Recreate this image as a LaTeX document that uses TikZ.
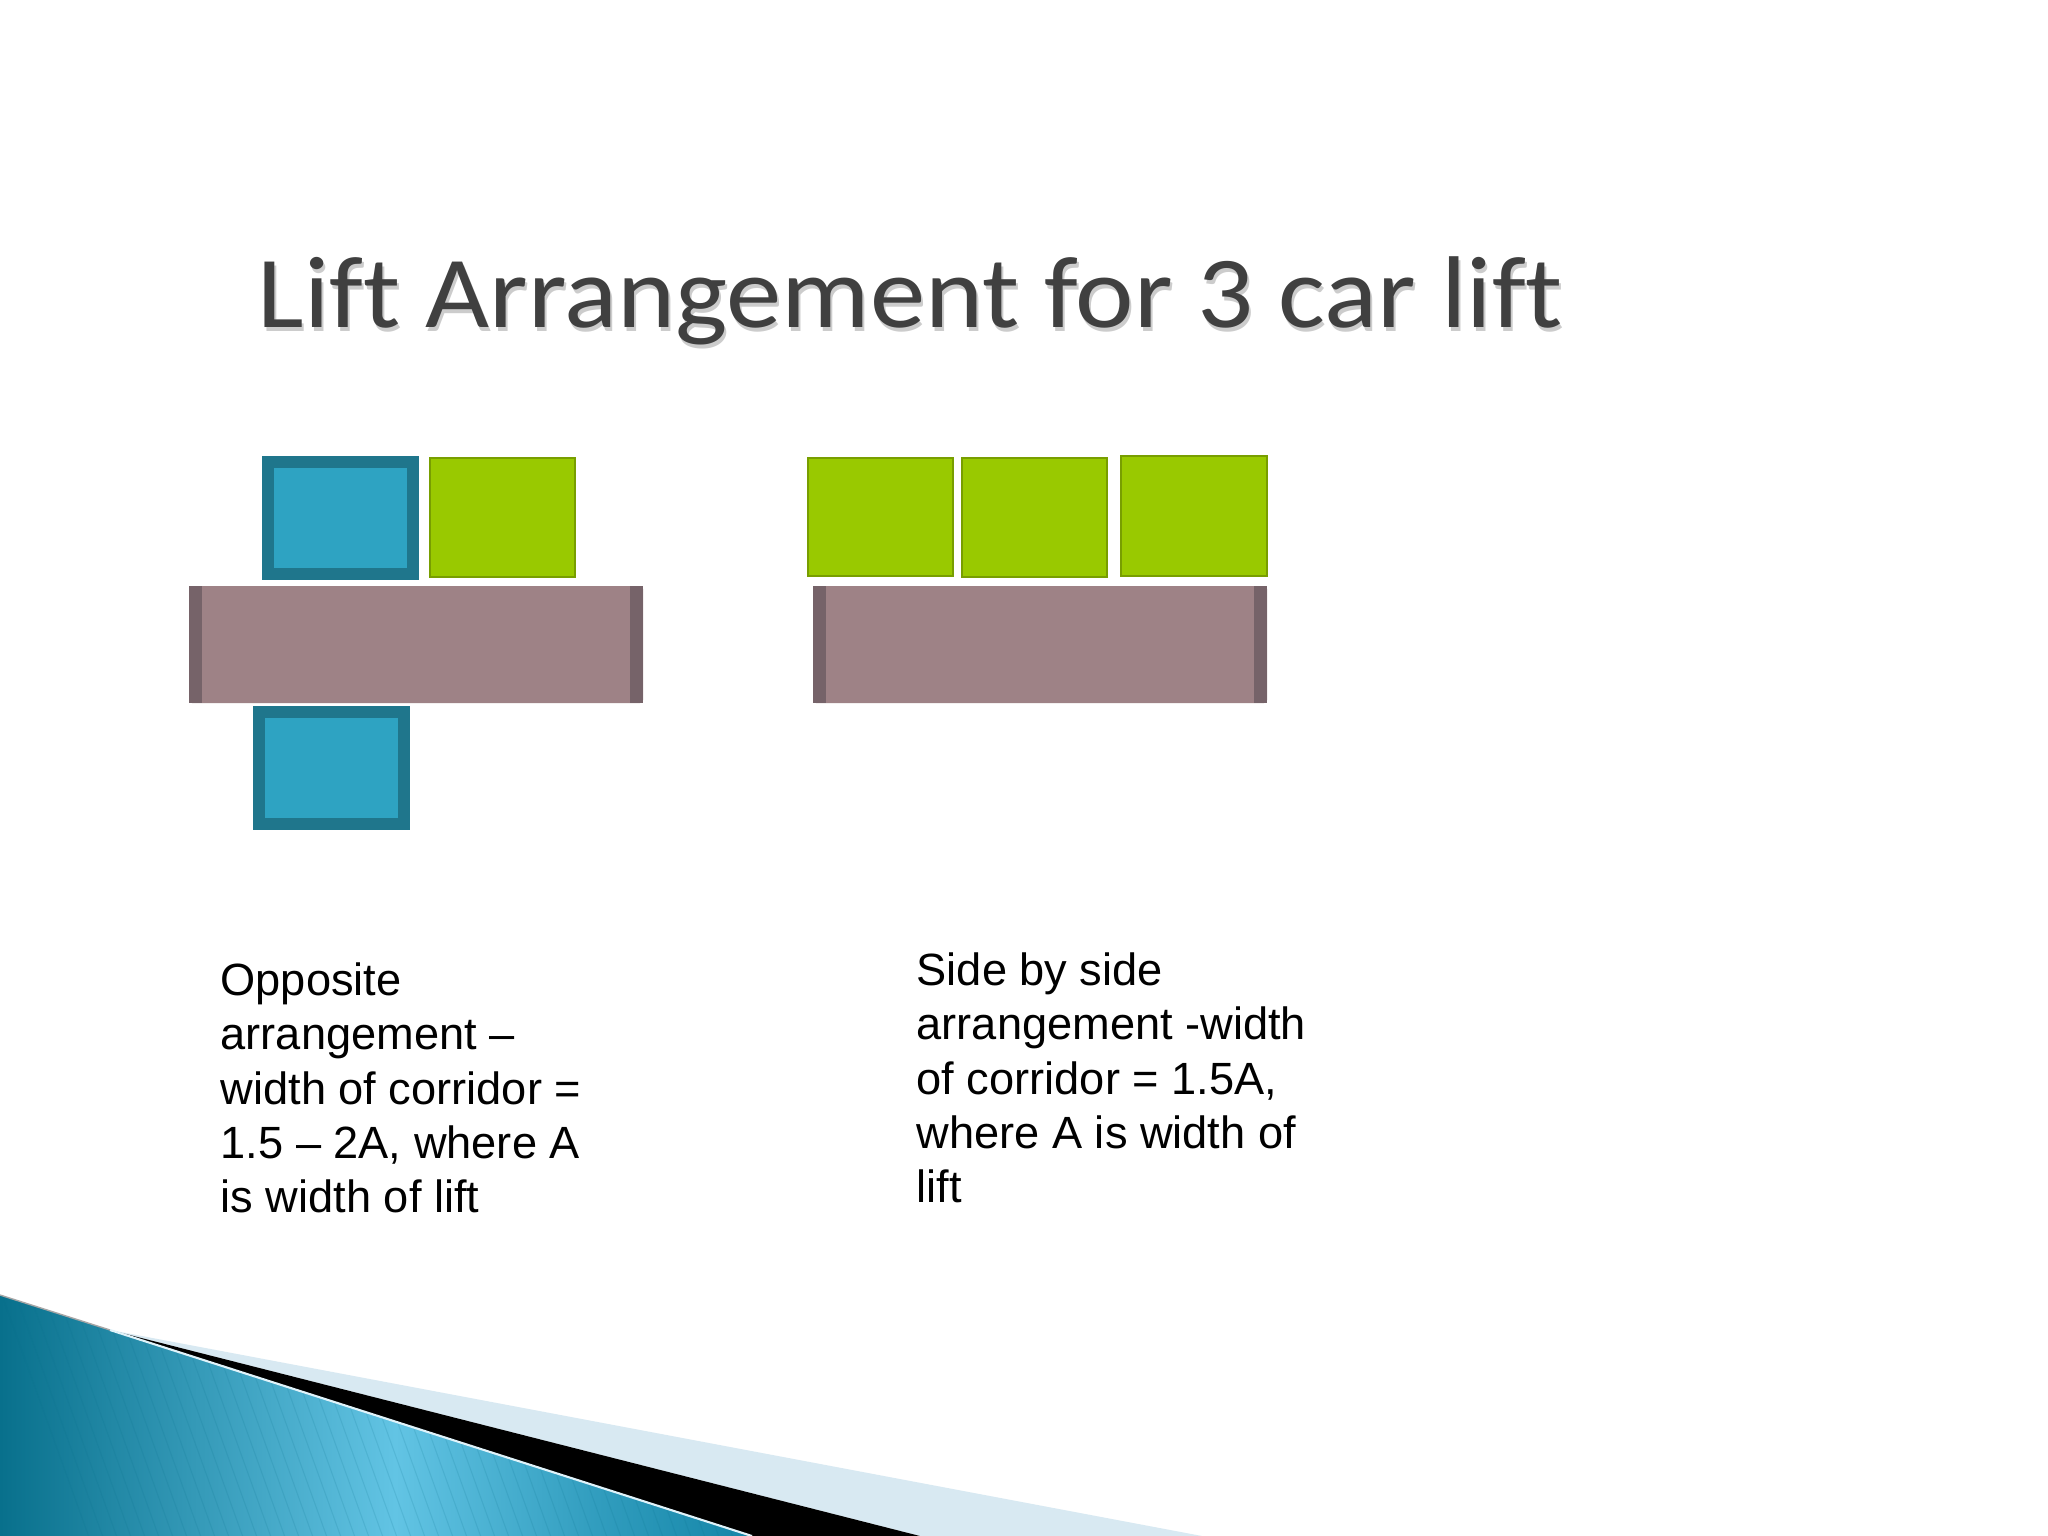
\documentclass[tikz,border=0pt]{standalone}
\usepackage{fontspec}
\usepackage{graphicx}
\setmainfont{Liberation Sans}
\newfontfamily\titlefont[Ligatures=NoCommon]{Carlito}
\usetikzlibrary{calc}
\definecolor{liftteal}{RGB}{46, 163, 194}
\definecolor{liftdark}{RGB}{31, 118, 140}
\definecolor{liftgreen}{RGB}{153, 201, 0}
\definecolor{greenedge}{RGB}{120, 158, 0}
\definecolor{corrmauve}{RGB}{158, 130, 134}
\definecolor{corrcap}{RGB}{118, 99, 105}
\definecolor{titlegray}{RGB}{64, 64, 64}
\definecolor{wavedark}{RGB}{8, 112, 140}
\definecolor{wavelight}{RGB}{98, 196, 228}
\definecolor{wavemid}{RGB}{18, 132, 166}
\definecolor{wavepale}{RGB}{216, 233, 242}
\pgfdeclarehorizontalshading{swoosh}{100bp}{color(0bp)=(wavedark); color(25bp)=(wavedark);
  color(38bp)=(wavedark!50!wavelight); color(51bp)=(wavelight); color(64bp)=(wavemid!60!wavelight);
  color(75bp)=(wavemid); color(100bp)=(wavemid)}

\begin{document}
\begin{tikzpicture}[x=0.01cm, y=-0.01cm,
    bluelift/.style={fill=liftteal, draw=liftdark, line width=3.4pt},
    greenlift/.style={fill=liftgreen, draw=greenedge, line width=0.6pt},
    corridor/.style={fill=corrmauve, rounded corners=0.8pt},
    note/.style={anchor=north west, align=left, inner sep=0pt,
                 font=\fontsize{12.85}{15.45}\selectfont}]
\useasboundingbox (0,0) rectangle (2048,1536);
\fill[white] (0,0) rectangle (2048,1536);

% Title with soft shadow
\node[anchor=base west, inner sep=0pt, text=black!20] at (259,331)
    {\titlefont\fontsize{29}{34}\selectfont\scalebox{1.085}[1]{Lift Arrangement for 3 car lift}};
\node (title) [anchor=base west, inner sep=0pt, text=titlegray] at (257,327)
    {\titlefont\fontsize{29}{34}\selectfont\scalebox{1.085}[1]{Lift Arrangement for 3 car lift}};

% Opposite arrangement
\draw[bluelift] (268,462) rectangle (413,574);
\draw[greenlift] (430,458) rectangle (575,577);
\fill[corridor] (189,586) rectangle (643,703);
\fill[corrcap] (189,586) rectangle (202,703);
\fill[corrcap] (630,586) rectangle (643,703);
\draw[bluelift] (259,712) rectangle (404,824);

% Side by side arrangement
\draw[greenlift] (808,458) rectangle (953,576);
\draw[greenlift] (962,458) rectangle (1107,577);
\draw[greenlift] (1121,456) rectangle (1267,576);
\fill[corridor] (813,586) rectangle (1267,703);
\fill[corrcap] (813,586) rectangle (826,703);
\fill[corrcap] (1254,586) rectangle (1267,703);

% Notes
\node (oppnote) [note] at (220,962) {Opposite\\arrangement --\\width of corridor =\\1.5 -- 2A, where A\\is width of lift};
\node (sidenote) [note] at (916,952) {Side by side\\arrangement -width\\of corridor = 1.5A,\\where A is width of\\lift};

% Corner swoosh
\fill[wavepale] (110,1330) -- (1202,1536) -- (920,1536) -- cycle;
\fill[black] (110,1330) -- (920,1536) -- (752,1536) -- cycle;
\begin{scope}
\clip (0,1295) -- (110,1330) -- (752,1536) -- (0,1536) -- cycle;
\shade[shading=swoosh] (0,1290) rectangle (760,1536);
\foreach \sx in {0,14,...,800} {
    \draw[wavedark, opacity=0.15, line width=0.3pt] (\sx,1290) -- ++(90,250);
}
\end{scope}
\draw[white!80!wavelight, line width=0.6pt] (110,1330) -- (752,1536);
\draw[black!35, line width=0.4pt] (0,1295) -- (110,1330);
\end{tikzpicture}
\end{document}
